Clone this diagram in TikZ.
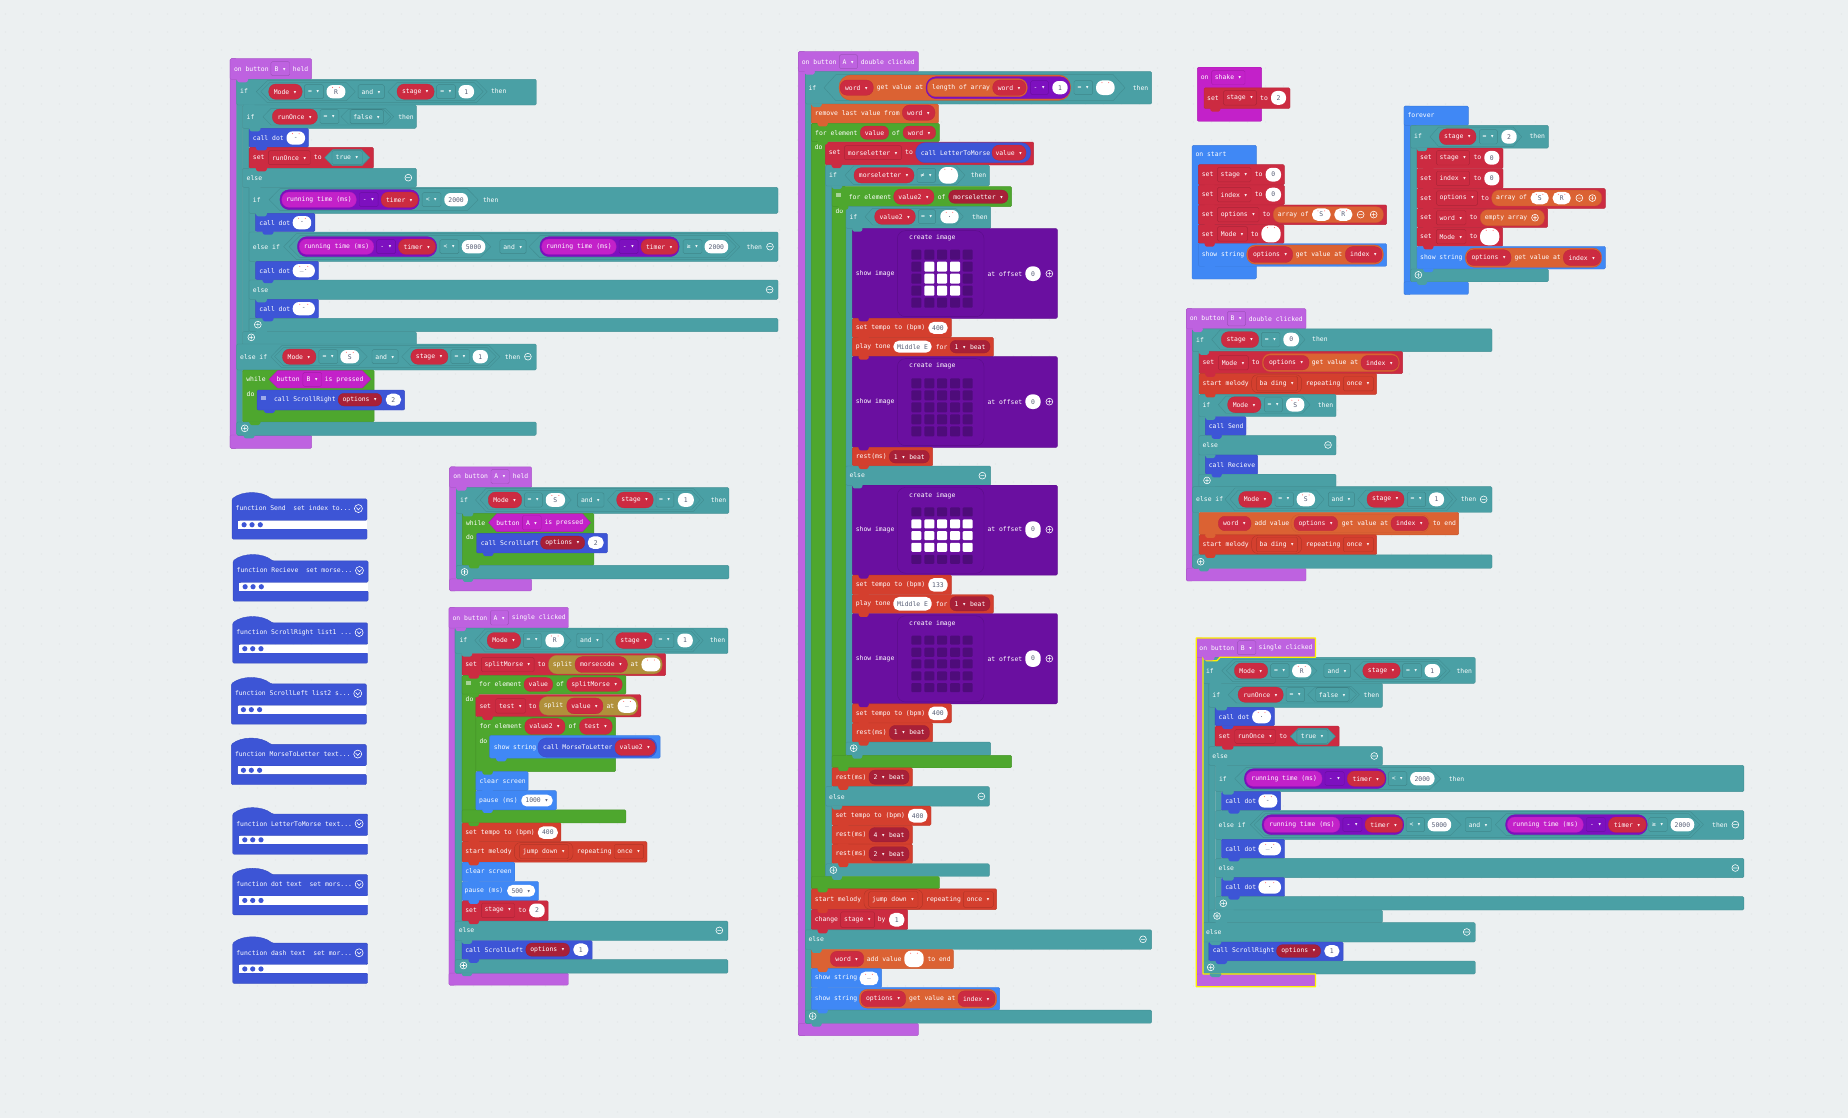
\documentclass[tikz,border=0pt]{standalone}
\usepackage{fontspec}
\setmonofont{DejaVu Sans Mono}
\usepackage{tikz}
\usetikzlibrary{positioning}
\pgfdeclarelayer{tabs}
\pgfsetlayers{main,tabs}
\newcounter{nd}
\def\ledh{15}
\tikzset{
  lbl/.style={inner sep=0pt,text=white,font=\ttfamily\fontsize{6.4}{7}\selectfont},
  blk/.style={fill=#1,draw=#1!90!black,line width=.4pt,rounded corners=1.2pt},
  hexc/.style={fill=#1,draw=#1!88!black,line width=.4pt,line join=round},
  ddbox/.style={draw=black,draw opacity=.16,line width=.4pt,rounded corners=1.5pt},
  icon/.style={draw=white,line width=.6pt},
}
\newcommand{\tx}[3]{\stepcounter{nd}\node (n\arabic{nd}) [lbl,anchor=west] at ({#1},{#2}) {#3};}
\newcommand{\bn}[5]{\draw[blk=#1] ({#2},{#3}) rectangle ({#4},{#5});}
\newcommand{\bk}[5]{\draw[blk=#1] ({#2},{#3}) rectangle ({#4},{#5});
  \begin{pgfonlayer}{tabs}\fill[#1,rounded corners=1pt] ({#2+17},{#5-2}) -- ({#2+22},{#5+9}) -- ({#2+46},{#5+9}) -- ({#2+51},{#5-2}) -- cycle;\end{pgfonlayer}}
\newcommand{\pil}[6][46]{\pgfmathsetmacro\rr{#1/6.4}
  \draw[fill=#2,draw=#2!92!black,line width=.3pt,rounded corners=\rr pt] ({#3},{#5-#1/2}) rectangle ({#4},{#5+#1/2});
  \stepcounter{nd}\node (n\arabic{nd}) [lbl] at ({(#3+#4)/2},{#5}) {#6};}
\newcommand{\val}[5][40]{\pgfmathsetmacro\rr{#1/6.4}
  \fill[white,rounded corners=\rr pt] ({#2},{#4-#1/2}) rectangle ({#3},{#4+#1/2});
  \stepcounter{nd}\node (n\arabic{nd}) [lbl,text=txtd] at ({(#2+#3)/2},{#4}) {#5};}
\newcommand{\qv}[5][40]{\val[#1]{#2}{#3}{#4}{#5}
  \fill[red!65!white] ({#2+(#3-#2)*.32},{#4-#1/2+7}) circle (.5pt) ({#2+(#3-#2)*.68},{#4-#1/2+7}) circle (.5pt);}
\newcommand{\dd}[4]{\draw[ddbox] ({#1},{#3-21}) rectangle ({#2},{#3+21});
  \stepcounter{nd}\node (n\arabic{nd}) [lbl] at ({(#1+#2)/2},{#3}) {#4};}
\newcommand{\ol}[3]{\draw[ddbox,rounded corners=6pt] ({#1},{#3-26}) rectangle ({#2},{#3+26});}
\newcommand{\hx}[5][50]{\draw[hexc=#2] ({#3},{#5}) -- ({#3+#1/2.2},{#5-#1/2}) -- ({#4-#1/2.2},{#5-#1/2}) -- ({#4},{#5}) -- ({#4-#1/2.2},{#5+#1/2}) -- ({#3+#1/2.2},{#5+#1/2}) -- cycle;}
\newcommand{\rmt}[2]{\pil[60]{mathp}{#1}{#1+383}{#2}{}
  \pil[46]{inpm}{#1+5}{#1+210}{#2}{running time (ms)}
  \dd{#1+218}{#1+270}{#2}{- ▾}
  \pil[46]{varr}{#1+278}{#1+380}{#2}{timer ▾}}
\newcommand{\pl}[2]{\draw[icon] (#1,#2) circle (3.4pt) ({#1-6},#2) -- ({#1+6},#2) (#1,{#2-6}) -- (#1,{#2+6});}
\newcommand{\mn}[2]{\draw[icon] (#1,#2) circle (3.4pt) ({#1-6},#2) -- ({#1+6},#2);}
\newcommand{\cm}[2]{\fill[white,fill opacity=.5] ({#1-7},{#2-6}) rectangle ({#1+7},{#2+5});}
\newcommand{\fnb}[3]{
  \draw[blk=fnc] (#1,#2) .. controls ({#1+30},{#2-24}) and ({#1+85},{#2-24}) .. ({#1+115},#2) -- ({#1+392},#2) -- ({#1+392},{#2+62}) -- ({#1+18},{#2+62}) -- ({#1+18},{#2+87}) -- ({#1+392},{#2+87}) -- ({#1+392},{#2+117}) -- (#1,{#2+117}) -- cycle;
  \fill[white] ({#1+18},{#2+63}) rectangle ({#1+392},{#2+87});
  \fill[fnc] ({#1+35},{#2+75}) circle (2.6pt) ({#1+58},{#2+75}) circle (2.6pt) ({#1+82},{#2+75}) circle (2.6pt);
  \tx{#1+10}{#2+28}{#3}
  \draw[icon] ({#1+367},{#2+28}) circle (4pt) ({#1+361},{#2+25}) -- ({#1+367},{#2+32}) -- ({#1+373},{#2+25});}
\newcommand{\leds}[5]{\foreach \yy [count=\rw] in {#1}{\foreach \xx [count=\cl] in {379,418,456,495,533}{
  \pgfmathtruncatemacro\lit{and(and(\cl>=#2,\cl<=#3),and(\rw>=#4,\rw<=#5))?1:0}
  \ifnum\lit=1 \fill[white,rounded corners=1pt] ({\xx-15},{\yy-\ledh}) rectangle ({\xx+15},{\yy+\ledh});
  \else \fill[ledoff,rounded corners=1pt] ({\xx-15},{\yy-\ledh}) rectangle ({\xx+15},{\yy+\ledh});\fi}}}
\newcommand{\simg}[3]{\bk{imgp}{187}{#1}{802}{#2}
  \draw[imgp!85!black,line width=.4pt,rounded corners=8pt] (322,{#1+6}) rectangle (582,{#2-5});
  \tx{357}{#1+27}{create image}\tx{197}{#3}{show image}\tx{592}{#3}{at offset}
  \val[44]{706}{752}{#3}{0}\pl{778}{#3}}
\newcommand{\tempo}[4]{\bk{musc}{#1}{#2}{#1+297}{#3}\tx{#1+10}{(#2+#3)/2}{set tempo to (bpm)}
  \val[36]{#1+228}{#1+286}{(#2+#3)/2}{#4}}
\newcommand{\rest}[4]{\bk{musc}{#1}{#2}{#1+241}{#3}\tx{#1+10}{(#2+#3)/2}{rest(ms)}
  \pil[38]{dvar}{#1+111}{#1+231}{(#2+#3)/2}{#4 ▾ beat}}
\newcommand{\tone}[3]{\bk{musc}{187}{#1}{610}{#2}\tx{197}{#3}{play tone}
  \val[36]{310}{425}{#3}{Middle E}\tx{437}{#3}{for}\pil[38]{dvar}{480}{600}{#3}{1 ▾ beat}}
\begin{document}
\begin{tikzpicture}[x=.33333pt,y=-.33333pt]
\definecolor{bgc}{HTML}{ECF0F1}
\definecolor{dotc}{HTML}{E2E6E7}
\definecolor{hatp}{HTML}{BE62E0}
\definecolor{fnc}{HTML}{3D55D6}
\definecolor{ift}{HTML}{4AA0A5}
\definecolor{loopg}{HTML}{4EA72E}
\definecolor{varr}{HTML}{CC2B41}
\definecolor{dvar}{HTML}{A82038}
\definecolor{musc}{HTML}{D43F2E}
\definecolor{arr}{HTML}{DB6233}
\definecolor{basc}{HTML}{4088F5}
\definecolor{imgp}{HTML}{6A0FA0}
\definecolor{inpm}{HTML}{C321C9}
\definecolor{mathp}{HTML}{7D10BF}
\definecolor{gold}{HTML}{B0903A}
\definecolor{ledoff}{HTML}{4E0C7A}
\definecolor{txtd}{HTML}{575E75}
\definecolor{hily}{HTML}{FFF200}
\fill[bgc] (0,0) rectangle (5544,3354);
\path[use as bounding box] (0,0) rectangle (5544,3354);
\foreach \xx in {16,70,...,5544} {\fill[dotc] \foreach \yy in {42,96,...,3354} {(\xx,\yy) circle (.7pt)};}

\begin{scope}[shift={(660,150)},x=.36351pt]
\bn{hatp}{28}{26}{46}{1195}
\bk{hatp}{28}{26}{252}{88}\bn{hatp}{28}{1155}{252}{1195}
\tx{38}{56}{on button}\dd{140}{192}{56}{B ▾}\tx{200}{56}{held}
\bn{ift}{46}{88}{62}{1155}
\bk{ift}{46}{88}{870}{165}\tx{55}{124}{if}
\hx[66]{ift}{100}{735}{125}\hx[54]{ift}{112}{372}{125}\hx[54]{ift}{462}{724}{125}
\pil{varr}{134}{226}{125}{Mode ▾}\dd{232}{285}{125}{= ▾}\qv{293}{345}{125}{R}\dd{380}{452}{125}{and ▾}
\pil{varr}{487}{589}{125}{stage ▾}\dd{596}{648}{125}{= ▾}\val{656}{699}{125}{1}\tx{745}{124}{then}
\bn{ift}{62}{165}{80}{885}
\bk{ift}{62}{165}{540}{235}\tx{73}{200}{if}
\hx{ift}{118}{478}{200}\pil{varr}{144}{268}{200}{runOnce ▾}\dd{275}{327}{200}{= ▾}\hx[44]{ift}{333}{470}{200}\dd{358}{450}{200}{false ▾}\tx{490}{200}{then}
\bk{fnc}{80}{235}{243}{292}\tx{90}{263}{call dot}\qv{183}{234}{264}{-}
\bk{varr}{80}{292}{422}{355}\tx{90}{323}{set}\dd{133}{249}{323}{runOnce ▾}\tx{258}{323}{to}\hx[48]{ift}{288}{412}{323}\dd{308}{392}{323}{true ▾}
\bk{ift}{62}{355}{540}{412}\tx{73}{383}{else}\mn{518}{383}
\bn{ift}{80}{412}{98}{845}
\bk{ift}{80}{412}{1535}{490}\tx{90}{449}{if}
\hx[66]{ift}{135}{710}{449}\rmt{165}{449}\dd{556}{608}{449}{< ▾}\val{617}{682}{449}{2000}\tx{723}{449}{then}
\bk{fnc}{98}{490}{261}{545}\tx{108}{518}{call dot}\qv{200}{251}{518}{-}
\bn{ift}{80}{546}{1535}{634}\tx{90}{590}{else if}
\hx[78]{ift}{175}{1430}{590}\hx[66]{ift}{190}{745}{590}\rmt{213}{590}\dd{605}{657}{590}{< ▾}\val{665}{730}{590}{5000}\dd{770}{842}{590}{and ▾}
\hx[66]{ift}{850}{1420}{590}\rmt{880}{590}\dd{1274}{1326}{590}{≥ ▾}\val{1333}{1398}{590}{2000}\tx{1448}{590}{then}\mn{1513}{590}
\bk{fnc}{98}{634}{271}{690}\tx{108}{662}{call dot}\qv{200}{261}{662}{\_.}
\bk{ift}{80}{690}{1535}{748}\tx{90}{719}{else}\mn{1512}{719}
\bk{fnc}{98}{748}{271}{805}\tx{108}{776}{call dot}\qv{200}{261}{776}{-}
\bk{ift}{80}{805}{1535}{845}\pl{104}{824}
\bk{ift}{62}{845}{540}{885}\pl{86}{862}
\bn{ift}{46}{882}{870}{960}\tx{55}{920}{else if}
\hx[66]{ift}{140}{770}{920}\hx[54]{ift}{150}{405}{920}\pil{varr}{172}{264}{920}{Mode ▾}\dd{272}{324}{920}{= ▾}\qv{331}{383}{920}{S}\dd{418}{490}{920}{and ▾}
\hx[54]{ift}{500}{760}{920}\pil{varr}{525}{627}{920}{stage ▾}\dd{635}{687}{920}{= ▾}\val{695}{737}{920}{1}\tx{783}{920}{then}\mn{847}{920}
\bk{loopg}{62}{960}{424}{1116}\tx{72}{988}{while}
\hx[52]{inpm}{135}{415}{988}\tx{155}{988}{button}\dd{228}{280}{988}{B ▾}\tx{288}{988}{is pressed}\tx{73}{1033}{do}
\bk{fnc}{102}{1020}{508}{1080}\cm{120}{1045}\tx{148}{1049}{call ScrollRight}\pil[38]{dvar}{325}{445}{1049}{options ▾}\val[36]{456}{498}{1049}{2}
\bk{ift}{46}{1116}{870}{1156}\pl{68}{1135}
\end{scope}

\begin{scope}[shift={(660,1380)},x=.34435pt,y=-.34435pt]
\fnb{35}{113}{function Send~~set index to...}
\fnb{38}{293}{function Recieve~~set morse...}
\fnb{37}{473}{function ScrollRight list1 ...}
\fnb{33}{650}{function ScrollLeft list2 s...}
\fnb{33}{826}{function MorseToLetter text...}
\fnb{37}{1028}{function LetterToMorse text...}
\fnb{37}{1204}{function dot text~~set mors...}
\fnb{37}{1403}{function dash text~~set mor...}

\bn{hatp}{667}{20}{686}{380}
\bk{hatp}{667}{20}{905}{80}\bn{hatp}{667}{345}{905}{380}
\tx{677}{48}{on button}\dd{787}{840}{48}{A ▾}\tx{850}{48}{held}
\bn{ift}{686}{80}{704}{345}
\bk{ift}{686}{80}{1478}{155}\tx{697}{116}{if}
\hx[66]{ift}{742}{1405}{116}\hx[54]{ift}{755}{1020}{116}\hx[54]{ift}{1125}{1395}{116}
\pil{varr}{779}{876}{116}{Mode ▾}\dd{884}{936}{116}{= ▾}\qv{946}{1002}{116}{S}\dd{1038}{1115}{116}{and ▾}
\pil{varr}{1152}{1258}{116}{stage ▾}\dd{1266}{1318}{116}{= ▾}\val{1330}{1376}{116}{1}\tx{1425}{116}{then}
\bk{loopg}{704}{155}{1086}{306}\tx{714}{182}{while}
\hx[52]{inpm}{780}{1076}{182}\tx{802}{182}{button}\dd{878}{933}{182}{A ▾}\tx{942}{182}{is pressed}\tx{714}{225}{do}
\bk{fnc}{745}{213}{1125}{270}\tx{757}{240}{call ScrollLeft}\pil[38]{dvar}{931}{1059}{240}{options ▾}\val[36]{1068}{1114}{240}{2}
\bk{ift}{686}{306}{1478}{345}\pl{710}{325}

\bn{hatp}{665}{428}{683}{1525}
\bk{hatp}{665}{428}{1012}{488}\bn{hatp}{665}{1490}{1012}{1525}
\tx{675}{458}{on button}\dd{785}{838}{458}{A ▾}\tx{847}{458}{single clicked}
\bn{ift}{683}{488}{703}{1490}
\bk{ift}{683}{488}{1475}{562}\tx{695}{524}{if}
\hx[66]{ift}{740}{1403}{524}\hx[54]{ift}{752}{1020}{524}\hx[54]{ift}{1122}{1393}{524}
\pil{varr}{776}{873}{524}{Mode ▾}\dd{881}{933}{524}{= ▾}\qv{945}{999}{524}{R}\dd{1036}{1112}{524}{and ▾}
\pil{varr}{1149}{1255}{524}{stage ▾}\dd{1263}{1318}{524}{= ▾}\val{1328}{1373}{524}{1}\tx{1422}{524}{then}
\bk{varr}{703}{562}{1294}{626}\tx{712}{594}{set}\dd{759}{912}{594}{splitMorse ▾}\tx{922}{594}{to}
\pil[54]{gold}{954}{1284}{594}{}\tx{966}{594}{split}\pil{varr}{1031}{1183}{594}{morsecode ▾}\tx{1192}{594}{at}\qv{1224}{1279}{594}{}
\bn{loopg}{703}{626}{743}{1054}
\bk{loopg}{703}{626}{1179}{680}\bk{loopg}{703}{1016}{1179}{1054}
\cm{722}{648}\tx{752}{652}{for element}\pil[40]{varr}{883}{966}{652}{value}\tx{976}{652}{of}\pil[40]{varr}{1007}{1168}{652}{splitMorse ▾}\tx{713}{695}{do}
\bk{varr}{743}{681}{1222}{746}\tx{753}{714}{set}\dd{800}{888}{714}{test ▾}\tx{896}{714}{to}
\pil[54]{gold}{927}{1214}{714}{}\tx{940}{714}{split}\pil{varr}{1007}{1112}{714}{value ▾}\tx{1122}{714}{at}\qv{1155}{1209}{714}{\_}
\bk{loopg}{743}{746}{1149}{905}\tx{753}{774}{for element}\pil{varr}{885}{1002}{774}{value2 ▾}\tx{1012}{774}{of}\pil{varr}{1044}{1139}{774}{test ▾}\tx{753}{815}{do}
\bk{basc}{783}{800}{1278}{866}\tx{795}{835}{show string}\pil[56]{fnc}{923}{1268}{835}{}\tx{938}{835}{call MorseToLetter}\pil{varr}{1147}{1264}{835}{value2 ▾}
\bk{basc}{743}{905}{895}{960}\tx{753}{931}{clear screen}
\bk{basc}{743}{960}{977}{1016}\tx{752}{989}{pause (ms)}\val[34]{875}{966}{989}{1000 ▾}
\bk{musc}{703}{1054}{990}{1108}\tx{712}{1082}{set tempo to (bpm)}\val[36]{923}{981}{1082}{400}
\bk{musc}{703}{1108}{1240}{1168}\tx{712}{1137}{start melody}\ol{855}{1025}{1137}\dd{870}{1012}{1137}{jump down ▾}\tx{1036}{1137}{repeating}\dd{1145}{1230}{1137}{once ▾}
\bk{basc}{703}{1168}{856}{1224}\tx{712}{1195}{clear screen}
\bk{basc}{703}{1224}{925}{1280}\tx{710}{1251}{pause (ms)}\val[34]{834}{915}{1251}{500 ▾}
\bk{varr}{703}{1280}{953}{1339}\tx{712}{1308}{set}\dd{759}{856}{1308}{stage ▾}\tx{866}{1308}{to}\val{898}{943}{1308}{2}
\bk{ift}{683}{1339}{1475}{1396}\tx{693}{1366}{else}\mn{1450}{1366}
\bk{fnc}{703}{1396}{1081}{1451}\tx{712}{1422}{call ScrollLeft}\pil[38]{dvar}{888}{1015}{1422}{options ▾}\val[36]{1026}{1070}{1422}{1}
\bk{ift}{683}{1451}{1475}{1490}\pl{707}{1468}
\end{scope}

\begin{scope}[shift={(2370,120)}]
\bn{hatp}{25}{35}{46}{2987}
\bk{hatp}{25}{35}{385}{95}\bn{hatp}{25}{2950}{385}{2987}
\tx{35}{65}{on button}\dd{148}{203}{65}{A ▾}\tx{212}{65}{double clicked}
\bn{ift}{46}{95}{64}{2950}
\bk{ift}{46}{95}{1085}{192}\tx{55}{143}{if}
\hx[78]{ift}{102}{1005}{143}\pil[76]{arr}{147}{842}{143}{}\pil{varr}{150}{250}{143}{word ▾}\tx{260}{143}{get value at}
\pil[66]{mathp}{408}{840}{143}{}\pil[54]{arr}{412}{712}{143}{}\tx{426}{143}{length of array}\pil{varr}{608}{708}{143}{word ▾}\dd{722}{775}{143}{- ▾}\val{787}{833}{143}{1}
\dd{852}{908}{143}{= ▾}\qv[44]{918}{974}{143}{}\tx{1028}{143}{then}
\bk{arr}{64}{192}{445}{250}\tx{74}{218}{remove last value from}\pil{varr}{337}{435}{218}{word ▾}
\bn{loopg}{64}{250}{106}{2547}
\bk{loopg}{64}{250}{448}{305}\tx{75}{278}{for element}\pil[40]{varr}{211}{296}{278}{value}\tx{306}{278}{of}\pil[40]{varr}{339}{437}{278}{word ▾}\tx{74}{320}{do}
\bk{varr}{106}{306}{731}{375}\tx{116}{338}{set}\dd{163}{335}{338}{morseletter ▾}\tx{345}{338}{to}
\pil[60]{fnc}{377}{722}{338}{}\tx{392}{338}{call LetterToMorse}\pil{varr}{606}{708}{338}{value ▾}
\bn{ift}{107}{375}{126}{2510}
\bk{ift}{107}{375}{598}{438}\tx{117}{406}{if}
\hx[56]{ift}{165}{525}{406}\pil{varr}{192}{372}{406}{morseletter ▾}\dd{381}{437}{406}{≠ ▾}\qv[50]{446}{504}{406}{}\tx{542}{406}{then}
\bn{loopg}{126}{440}{168}{2183}
\bk{loopg}{126}{440}{665}{500}\cm{146}{465}\tx{176}{470}{for element}\pil{varr}{311}{432}{470}{value2 ▾}\tx{443}{470}{of}\pil[40]{dvar}{476}{654}{470}{morseletter ▾}\tx{136}{512}{do}
\bn{ift}{168}{500}{187}{2146}
\bk{ift}{168}{500}{602}{566}\tx{178}{530}{if}
\hx{ift}{225}{520}{530}\pil{varr}{254}{376}{530}{value2 ▾}\dd{385}{437}{530}{= ▾}\qv{451}{506}{530}{.}\tx{546}{530}{then}
\simg{566}{835}{701}\leds{644,680,716,752,788}{2}{4}{2}{4}
\tempo{187}{835}{892}{400}
\tone{892}{950}{920}
\simg{950}{1222}{1085}\leds{1030,1066,1102,1138,1174}{9}{9}{9}{9}
\rest{187}{1222}{1278}{1}
\bk{ift}{168}{1278}{602}{1336}\tx{178}{1306}{else}\mn{577}{1307}
\begin{scope}[shift={(0,1260)},y=-.37622pt]
\def\ledh{12}
\simg{67}{306}{185}\leds{138,170,201,232,264}{1}{5}{2}{4}
\tempo{187}{306}{358}{133}
\tone{358}{408}{382}
\simg{408}{648}{528}\leds{479,511,542,574,605}{9}{9}{9}{9}
\tempo{187}{648}{699}{400}
\rest{187}{699}{750}{1}
\bk{ift}{168}{750}{602}{785}\pl{191}{766}
\bk{loopg}{126}{785}{665}{818}
\rest{126}{818}{868}{2}
\bk{ift}{107}{868}{598}{920}\tx{117}{895}{else}\mn{574}{894}
\tempo{126}{920}{971}{400}
\rest{126}{971}{1021}{4}
\rest{126}{1021}{1073}{2}
\bk{ift}{107}{1073}{598}{1107}\pl{130}{1090}
\bk{loopg}{64}{1107}{448}{1140}
\bk{musc}{64}{1140}{620}{1195}\tx{74}{1168}{start melody}\ol{222}{398}{1168}\dd{236}{384}{1168}{jump down ▾}\tx{408}{1168}{repeating}\dd{520}{610}{1168}{once ▾}
\bk{varr}{64}{1195}{353}{1249}\tx{74}{1222}{change}\dd{152}{254}{1222}{stage ▾}\tx{263}{1222}{by}\val[36]{297}{343}{1222}{1}
\bk{ift}{46}{1249}{1085}{1301}\tx{55}{1274}{else}\mn{1059}{1274}
\bk{arr}{64}{1301}{490}{1352}\pil[40]{varr}{121}{221}{1326}{word ▾}\tx{230}{1326}{add value}\qv[44]{343}{401}{1326}{}\tx{412}{1326}{to end}
\bk{basc}{64}{1352}{275}{1402}\tx{74}{1376}{show string}\qv[36]{209}{265}{1378}{\_}
\bk{basc}{64}{1402}{629}{1462}\tx{74}{1432}{show string}\pil[50]{arr}{208}{620}{1432}{}\pil[42]{varr}{213}{347}{1432}{options ▾}\tx{357}{1432}{get value at}\pil[42]{varr}{504}{615}{1432}{index ▾}
\bk{ift}{46}{1462}{1085}{1497}\pl{68}{1478}
\end{scope}
\end{scope}

\begin{scope}[shift={(3540,150)},y=-.34435pt]
\bn{inpm}{52}{50}{245}{207}\tx{62}{80}{on}\dd{95}{195}{80}{shake ▾}
\bk{varr}{72}{110}{330}{170}\tx{81}{139}{set}\dd{130}{230}{139}{stage ▾}\tx{240}{139}{to}\val{273}{318}{139}{2}

\bn{basc}{36}{277}{229}{665}\tx{46}{304}{on start}
\bk{varr}{55}{333}{313}{392}\tx{65}{362}{set}\dd{112}{213}{362}{stage ▾}\tx{224}{362}{to}\val{257}{303}{362}{0}
\bk{varr}{55}{392}{313}{450}\tx{65}{420}{set}\dd{112}{213}{420}{index ▾}\tx{224}{420}{to}\val{257}{303}{420}{0}
\bk{varr}{55}{450}{620}{507}\tx{65}{478}{set}\dd{112}{237}{478}{options ▾}\tx{247}{478}{to}\pil[46]{arr}{280}{610}{478}{}\tx{293}{478}{array of}\qv[36]{396}{452}{478}{S}\qv[36]{463}{517}{478}{R}\mn{542}{478}\pl{581}{478}
\bk{varr}{55}{507}{312}{562}\tx{65}{534}{set}\dd{112}{203}{534}{Mode ▾}\tx{212}{534}{to}\qv[50]{244}{302}{534}{}
\bk{basc}{55}{562}{620}{628}\tx{65}{594}{show string}\pil[56]{arr}{200}{610}{594}{}\pil{varr}{204}{338}{594}{options ▾}\tx{347}{594}{get value at}\pil{varr}{496}{606}{594}{index ▾}

\bn{basc}{672}{163}{692}{710}
\bn{basc}{672}{163}{865}{219}\bn{basc}{672}{673}{865}{710}\tx{682}{190}{forever}
\bn{ift}{692}{219}{711}{673}
\bk{ift}{692}{219}{1105}{285}\tx{702}{251}{if}
\hx[56]{ift}{750}{1025}{252}\pil{varr}{778}{888}{252}{stage ▾}\dd{898}{952}{252}{= ▾}\val{964}{1010}{252}{2}\tx{1048}{251}{then}
\bk{varr}{711}{285}{969}{344}\tx{720}{313}{set}\dd{769}{869}{313}{stage ▾}\tx{880}{313}{to}\val{913}{958}{313}{0}
\bk{varr}{711}{344}{969}{402}\tx{720}{373}{set}\dd{769}{869}{373}{index ▾}\tx{880}{373}{to}\val{913}{958}{373}{0}
\bk{varr}{711}{402}{1276}{460}\tx{720}{430}{set}\dd{769}{893}{430}{options ▾}\tx{903}{430}{to}\pil[46]{arr}{935}{1265}{430}{}\tx{948}{430}{array of}\qv[36]{1052}{1106}{430}{S}\qv[36]{1118}{1172}{430}{R}\mn{1198}{430}\pl{1237}{430}
\bk{varr}{711}{460}{1103}{515}\tx{720}{487}{set}\dd{769}{858}{487}{word ▾}\tx{868}{487}{to}\pil[46]{arr}{901}{1093}{487}{}\tx{914}{487}{empty array}\pl{1065}{487}
\bk{varr}{711}{515}{968}{570}\tx{720}{542}{set}\dd{769}{858}{542}{Mode ▾}\tx{868}{542}{to}\qv[50]{900}{958}{542}{}
\bk{basc}{711}{570}{1276}{636}\tx{720}{603}{show string}\pil[56]{arr}{856}{1265}{603}{}\pil{varr}{860}{993}{603}{options ▾}\tx{1003}{603}{get value at}\pil{varr}{1150}{1262}{603}{index ▾}
\bk{ift}{692}{636}{1105}{673}\pl{715}{653}

\bn{hatp}{19}{751}{38}{1542}
\bk{hatp}{19}{751}{378}{810}\bn{hatp}{19}{1505}{378}{1542}
\tx{29}{780}{on button}\dd{142}{197}{780}{B ▾}\tx{206}{780}{double clicked}
\bn{ift}{38}{810}{57}{1505}
\bk{ift}{38}{810}{936}{876}\tx{48}{841}{if}
\hx[56]{ift}{95}{375}{841}\pil{varr}{124}{236}{841}{stage ▾}\dd{244}{300}{841}{= ▾}\val{310}{357}{841}{0}\tx{396}{841}{then}
\bk{varr}{57}{876}{668}{940}\tx{67}{908}{set}\dd{115}{205}{908}{Mode ▾}\tx{215}{908}{to}\pil[52]{arr}{247}{658}{908}{}\pil[42]{varr}{251}{387}{908}{options ▾}\tx{395}{908}{get value at}\pil[42]{varr}{543}{655}{908}{index ▾}
\bk{musc}{57}{940}{590}{1000}\tx{67}{969}{start melody}\ol{215}{365}{969}\dd{229}{353}{969}{ba ding ▾}\tx{377}{969}{repeating}\dd{490}{580}{969}{once ▾}
\bn{ift}{57}{1000}{76}{1270}
\bk{ift}{57}{1000}{468}{1065}\tx{67}{1030}{if}
\hx{ift}{115}{390}{1030}\pil{varr}{143}{243}{1030}{Mode ▾}\dd{253}{307}{1030}{= ▾}\qv{318}{373}{1030}{S}\tx{413}{1030}{then}
\bk{fnc}{76}{1065}{198}{1120}\tx{86}{1091}{call Send}
\bk{ift}{57}{1120}{468}{1176}\tx{67}{1146}{else}\mn{444}{1147}
\bk{fnc}{76}{1176}{233}{1232}\tx{86}{1204}{call Recieve}
\bk{ift}{57}{1232}{468}{1270}\pl{81}{1250}
\bn{ift}{38}{1268}{936}{1343}\tx{48}{1305}{else if}
\hx[66]{ift}{135}{830}{1305}\hx[54]{ift}{150}{432}{1305}\pil{varr}{176}{276}{1305}{Mode ▾}\dd{285}{340}{1305}{= ▾}\qv{350}{405}{1305}{S}\dd{445}{523}{1305}{and ▾}
\hx[54]{ift}{533}{818}{1305}\pil{varr}{561}{672}{1305}{stage ▾}\dd{682}{737}{1305}{= ▾}\val{747}{792}{1305}{1}\tx{842}{1305}{then}\mn{911}{1305}
\bk{arr}{57}{1343}{836}{1408}\pil[42]{varr}{115}{213}{1375}{word ▾}\tx{223}{1375}{add value}\pil[52]{arr}{333}{748}{1375}{}\pil[42]{varr}{342}{473}{1375}{options ▾}\tx{485}{1375}{get value at}\pil[42]{varr}{633}{745}{1375}{index ▾}\tx{758}{1375}{to end}
\bk{musc}{57}{1408}{590}{1466}\tx{67}{1436}{start melody}\ol{215}{365}{1436}\dd{229}{353}{1436}{ba ding ▾}\tx{377}{1436}{repeating}\dd{490}{580}{1436}{once ▾}
\bk{ift}{38}{1466}{936}{1505}\pl{62}{1486}
\end{scope}

\begin{scope}[shift={(3540,1890)},x=.36996pt]
\bn{hatp}{44}{24}{62}{1070}
\bk{hatp}{44}{24}{366}{82}\bn{hatp}{44}{1032}{366}{1070}
\tx{52}{53}{on button}\dd{155}{205}{53}{B ▾}\tx{212}{53}{single clicked}
\bn{ift}{62}{82}{78}{1032}
\bk{ift}{62}{82}{798}{160}\tx{70}{122}{if}
\hx[66]{ift}{113}{730}{122}\hx[54]{ift}{125}{370}{122}\hx[54]{ift}{470}{720}{122}
\pil{varr}{147}{237}{122}{Mode ▾}\dd{245}{295}{122}{= ▾}\qv{303}{355}{122}{R}\dd{389}{461}{122}{and ▾}
\pil{varr}{494}{595}{122}{stage ▾}\dd{601}{653}{122}{= ▾}\val{661}{703}{122}{1}\tx{747}{122}{then}
\bn{ift}{78}{160}{95}{878}
\bk{ift}{78}{160}{547}{232}\tx{87}{194}{if}
\hx{ift}{130}{485}{194}\pil{varr}{157}{279}{194}{runOnce ▾}\dd{287}{337}{194}{= ▾}\hx[44]{ift}{345}{477}{194}\dd{367}{457}{194}{false ▾}\tx{496}{194}{then}
\bk{fnc}{95}{232}{255}{288}\tx{104}{260}{call dot}\qv{195}{246}{260}{.}
\bk{varr}{95}{288}{430}{350}\tx{104}{318}{set}\dd{148}{258}{319}{runOnce ▾}\tx{268}{318}{to}\hx[48]{ift}{298}{420}{319}\dd{316}{400}{319}{true ▾}
\bk{ift}{78}{350}{547}{406}\tx{87}{377}{else}\mn{525}{378}
\bn{ift}{96}{406}{112}{840}
\bk{ift}{96}{406}{1524}{485}\tx{105}{446}{if}
\hx[66]{ift}{148}{705}{446}\rmt{174}{446}\dd{563}{613}{446}{< ▾}\val{622}{688}{446}{2000}\tx{726}{446}{then}
\bk{fnc}{112}{485}{272}{542}\tx{122}{512}{call dot}\qv{212}{263}{513}{-}
\bn{ift}{96}{542}{1524}{628}\tx{104}{584}{else if}
\hx[78]{ift}{190}{1415}{584}\hx[66]{ift}{200}{760}{584}\rmt{222}{584}\dd{611}{661}{584}{< ▾}\val{669}{733}{584}{5000}\dd{771}{842}{584}{and ▾}
\hx[66]{ift}{852}{1405}{584}\rmt{880}{584}\dd{1267}{1317}{584}{≥ ▾}\val{1326}{1390}{584}{2000}\tx{1438}{584}{then}\mn{1501}{584}
\bk{fnc}{112}{628}{283}{685}\tx{122}{656}{call dot}\qv{212}{273}{656}{\_.}
\bk{ift}{96}{685}{1524}{743}\tx{104}{713}{else}\mn{1501}{714}
\bk{fnc}{112}{743}{283}{800}\tx{122}{770}{call dot}\qv{212}{273}{771}{.}
\bk{ift}{96}{800}{1524}{840}\pl{117}{820}
\bk{ift}{78}{840}{547}{878}\pl{100}{858}
\bk{ift}{62}{878}{798}{936}\tx{70}{905}{else}\mn{775}{906}
\bk{fnc}{78}{936}{441}{993}\tx{88}{962}{call ScrollRight}\pil[38]{dvar}{261}{380}{963}{options ▾}\val[36]{390}{431}{963}{1}
\bk{ift}{62}{993}{798}{1032}\pl{83}{1012}
\draw[hily,line width=1.3pt,line join=round] (44,24) -- (366,24) -- (366,82) -- (108,82) -- (100,92) -- (72,92) -- (62,82) -- (62,1032) -- (366,1032) -- (366,1070) -- (44,1070) -- cycle;
\end{scope}
\end{tikzpicture}
\end{document}
